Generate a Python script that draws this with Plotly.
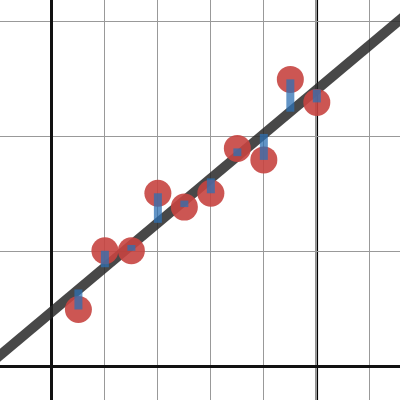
import numpy as np
import plotly.graph_objects as go

x_vals = [0.5, 1.0, 1.5, 2.0, 2.5, 3.0, 3.5, 4.0, 4.5, 5.0]
y_vals = [0.50, 1.01, 1.01, 1.51, 1.39, 1.51, 1.90, 1.80, 2.50, 2.30]

m, b = np.polyfit(x_vals, y_vals, 1)
fig = go.Figure()
line_x = [-1.2, 7]
fig.add_trace(go.Scatter(x=line_x, y=[m*v+b for v in line_x], mode="lines",
                         line=dict(color="rgba(40,40,40,0.85)", width=10), hoverinfo="skip"))
fig.add_trace(go.Scatter(x=x_vals, y=y_vals, mode="markers",
                         marker=dict(size=27, color="rgba(199,68,64,0.9)", line=dict(width=0))))
rx, ry = [], []
for xv, yv in zip(x_vals, y_vals):
    rx += [xv, xv, None]; ry += [yv, m*xv+b, None]
fig.add_trace(go.Scatter(x=rx, y=ry, mode="lines",
                         line=dict(color="rgba(45,112,179,0.75)", width=8)))
fig.add_shape(type="line", x0=5, x1=5, y0=-1, y1=4, line=dict(color="black", width=2.5), layer="below")
fig.update_layout(autosize=True, margin=dict(l=0, r=0, t=0, b=0),
                  plot_bgcolor="white", paper_bgcolor="white", showlegend=False,
                  xaxis=dict(range=[-0.98, 6.57], dtick=1, showgrid=True, gridcolor="#999", gridwidth=1,
                             zeroline=True, zerolinecolor="#111", zerolinewidth=3, showticklabels=False),
                  yaxis=dict(range=[-0.287, 3.19], dtick=1, showgrid=True, gridcolor="#999", gridwidth=1,
                             zeroline=True, zerolinecolor="#111", zerolinewidth=3, showticklabels=False))
fig.write_html("out.html", config={"responsive": True, "displayModeBar": False},
               default_width="100vw", default_height="100vh",
               post_script="document.body.style.margin='0';window.dispatchEvent(new Event('resize'));")
